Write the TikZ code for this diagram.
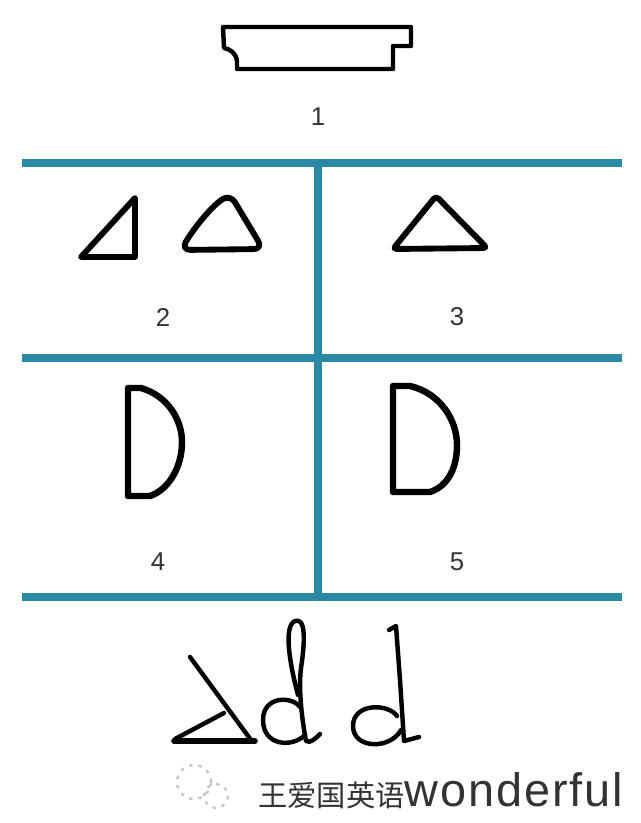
\documentclass[tikz,border=0pt]{standalone}
\usepackage{fontspec}
\setmainfont{Liberation Sans}
\newfontfamily\cjk{Noto Sans CJK SC}
\usepackage{tikz}
\definecolor{panelblue}{RGB}{42,138,165}

\begin{document}
\begin{tikzpicture}[x=0.03cm,y=-0.03cm,
                grid/.style={line width=6pt,draw=panelblue},
                ink/.style={line width=5pt,line join=round,line cap=round},
                pen/.style={line width=3.8pt,line join=round,line cap=round},
                num/.style={font=\fontsize{22}{22}\selectfont,text=black!80,inner sep=0pt}
            ]
                \useasboundingbox[fill=white] (0,0) rectangle (640,823);

                % the four panels
                \foreach \y in {163,358,597}
                    {
                    \draw[grid] (22,\y) -- (622,\y);
                }
                \draw[grid] (318,163) -- (318,597);

                \foreach \n/\x/\y in {1/318/117,2/163/317,3/457/317,4/158/562,5/457/562}
                    {
                    \node[num] (lbl\n) at (\x,\y) {\n};
                }

                % 1
                \draw[line width=3.8pt,line join=round] (223,27) -- (411,27) -- (411,46) -- (393,46)
                    -- (393,69) -- (237,69) -- (237,61)
                    .. controls (236,53) and (230,49) .. (224,48) -- cycle;

                % 2
                \draw[ink] (81,257) -- (135,198) -- (135,257) -- cycle;
                \draw[ink,rounded corners=8pt] (181,250) .. controls (194,228) and (211,207) .. (230,194)
                    -- (263,249) -- cycle;

                % 3
                \draw[ink,rounded corners=3pt] (393,249) -- (436,196) -- (487,248) -- cycle;

                % 4 and 5
                \draw[line width=5.5pt,line join=round] (128,388) -- (141,388)
                    .. controls (168,396) and (182,420) .. (182,442)
                    .. controls (182,468) and (168,490) .. (150,496) -- (128,496) -- cycle;
                \draw[line width=5.5pt,line join=round] (393,386) -- (410,386)
                    .. controls (440,393) and (457,420) .. (457,445)
                    .. controls (457,468) and (448,486) .. (430,492) -- (393,492) -- cycle;

                % handwritten forms
                \draw[pen] (190,657) -- (251,740);
                \draw[pen,line width=4.8pt] (174,741) -- (255,741);
                \draw[pen] (175,739) -- (224,713);
                \draw[pen] (301,708) .. controls (292,695) and (263,696) .. (263,720)
                    .. controls (263,746) and (292,748) .. (305,735);
                \draw[pen] (298,695) .. controls (290,665) and (283,626) .. (295,621)
                    .. controls (306,617) and (305,642) .. (301,668)
                    .. controls (298,692) and (303,725) .. (306,741)
                    .. controls (310,744) and (316,738) .. (320,734);
                \draw[pen] (397,716) .. controls (388,703) and (353,703) .. (353,726)
                    .. controls (353,749) and (390,750) .. (401,730);
                \draw[pen] (389,630) -- (396,626) -- (400,680) -- (404,741) -- (419,737);

                % watermark
                \draw[gray!45,line width=2pt,dash pattern=on 3pt off 5pt] (194,782) circle (17);
                \draw[gray!45,line width=2pt,dash pattern=on 3pt off 5pt] (216,796) circle (12);
                \node[anchor=base west,inner sep=0pt,text=black!80] (mark) at (258,806)
                    {{\cjk\fontsize{25}{25}\selectfont 王爱国英语}{\fontsize{40}{40}\selectfont\addfontfeature{LetterSpace=4} wonderful}};

            \end{tikzpicture}
\end{document}
